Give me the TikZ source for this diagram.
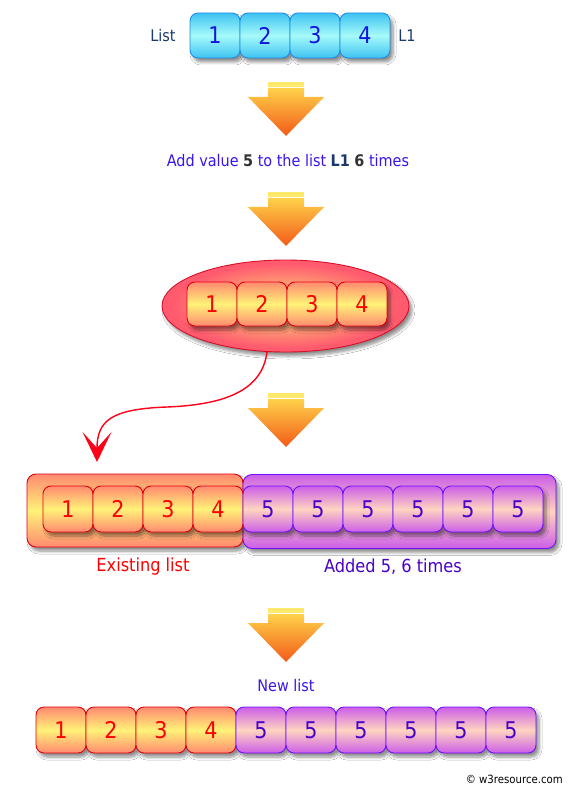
\documentclass[tikz,border=0pt]{standalone}
\usepackage{fontspec}
\setmainfont{DejaVu Sans Condensed}
\usetikzlibrary{shadows,shadows.blur,arrows.meta,shapes.geometric}
\definecolor{cyanA}{HTML}{3EC3F2}
\definecolor{cyanB}{HTML}{A6FAFA}
\definecolor{cyanD}{HTML}{1E8CF0}
\definecolor{cyanT}{HTML}{1414E0}
\definecolor{navy}{HTML}{1B3A6B}
\definecolor{addblue}{HTML}{3A14F0}
\definecolor{dgray}{HTML}{333333}
\definecolor{salmon}{HTML}{FF8A70}
\definecolor{lyellow}{HTML}{FFF278}
\definecolor{redD}{HTML}{E0000F}
\definecolor{redT}{HTML}{FF0000}
\definecolor{purA}{HTML}{CC5EE8}
\definecolor{purB}{HTML}{FFD4C0}
\definecolor{purD}{HTML}{7010FF}
\definecolor{purT}{HTML}{4A00C8}
\definecolor{ellOut}{HTML}{FF5A6E}
\definecolor{ellIn}{HTML}{FFD07A}
\definecolor{ellD}{HTML}{D8102A}
\definecolor{arrTop}{HTML}{FFD24A}
\definecolor{arrBot}{HTML}{F25A18}
\definecolor{barCol}{HTML}{FFE86A}
\definecolor{curveRed}{HTML}{FF0018}
\pgfdeclareradialshading{ellshade}{\pgfpoint{0bp}{0bp}}{color(0bp)=(ellIn); color(4bp)=(ellIn); color(23bp)=(ellOut); color(50bp)=(ellOut)}
\begin{document}
\begin{tikzpicture}[x=1pt,y=-1pt,
  shad/.style={blur shadow={shadow xshift=3pt,shadow yshift=-4pt,shadow blur steps=6,shadow blur radius=3pt,shadow opacity=45}},
  cellbase/.style={draw, rounded corners=8pt, minimum width=50pt, minimum height=45pt,
    inner sep=0pt, line width=0.9pt, font=\fontsize{23}{23}\selectfont, shad},
  bluecell/.style={cellbase, draw=cyanD, top color=cyanA, bottom color=cyanA, middle color=cyanB, text=cyanT},
  redcell/.style={cellbase, draw=redD, top color=salmon, bottom color=salmon, middle color=lyellow, text=redT},
  purcell/.style={cellbase, draw=purD, top color=purA, bottom color=purA, middle color=purB, text=purT},
  lbl/.style={inner sep=0pt, font=\fontsize{16}{16}\selectfont},
  biglbl/.style={inner sep=0pt, font=\fontsize{18}{18}\selectfont},
  bigarrow/.pic={
    \fill[barCol] (-18,0) rectangle (18,5);
    \shade[top color=arrTop, bottom color=arrBot] (-18,6) -- (18,6) -- (18,15) -- (38,15) -- (0,54) -- (-38,15) -- (-18,15) -- cycle;
  }
]
\fill[white] (0,0) rectangle (573,794);
\useasboundingbox (0,0) rectangle (573,794);

% top list
\foreach \i in {1,...,4} \node[bluecell] (t\i) at ({165+50*\i},35.5) {\i};
\node[lbl, text=navy] (listlbl) at (163,36) {List};
\node[lbl, text=navy] (l1lbl) at (407,36) {L1};

\pic (arrA) at (286,82) {bigarrow};
\node[lbl, text=addblue] (stepA) at (288,161) {Add value \textbf{\color{dgray}5} to the list \textbf{\color{navy}L1} \textbf{\color{dgray}6} times};
\pic (arrB) at (286,192) {bigarrow};

% ellipse
\node[ellipse, draw=ellD, line width=0.9pt, minimum width=247pt, minimum height=92pt,
      shading=ellshade, shad] (ell) at (285.5,306) {};
\foreach \i in {1,...,4} \node[redcell, minimum height=44pt] (e\i) at ({162+50*\i},304) {\i};

\coordinate (tip) at (97,462);
\draw[curveRed, line width=1.4pt, -{Stealth[length=30pt,width=29pt,inset=16pt]}]
  (ell.248) .. controls (262,395) and (215,405) .. (167,407)
  .. controls (112,409) and (97,420) .. (tip);

\pic (arrC) at (286,393) {bigarrow};

% containers
\node[draw=redD, line width=0.9pt, rounded corners=9pt, minimum width=216pt, minimum height=73pt,
      top color=salmon, bottom color=salmon, middle color=lyellow, shad] (exist) at (135,510.5) {};
\node[draw=purD, line width=0.9pt, rounded corners=9pt, minimum width=313pt, minimum height=74pt,
      top color=purA, bottom color=purA, middle color=purB, shad] (added) at (399.5,511.5) {};
\foreach \i in {1,...,4} \node[redcell, minimum height=46pt] (m\i) at ({18+50*\i},509) {\i};
\foreach \i in {5,...,10} \node[purcell, minimum height=46pt] (m\i) at ({18+50*\i},509) {5};
\node[biglbl, text=redT] (existlbl) at (143,567) {Existing list};
\node[biglbl, text=purT] (addedlbl) at (393,567) {Added 5, 6 times};

\pic (arrD) at (286,608) {bigarrow};
\node[lbl, text=addblue] (newlbl) at (286,686) {New list};

\foreach \i in {1,...,4} \node[redcell, minimum height=46pt] (b\i) at ({11+50*\i},730) {\i};
\foreach \i in {5,...,10} \node[purcell, minimum height=46pt] (b\i) at ({11+50*\i},730) {5};

\node[inner sep=0pt, anchor=east, font=\fontsize{11.3}{12}\selectfont] (copy) at (563,779) {© w3resource.com};
\end{tikzpicture}
\end{document}
